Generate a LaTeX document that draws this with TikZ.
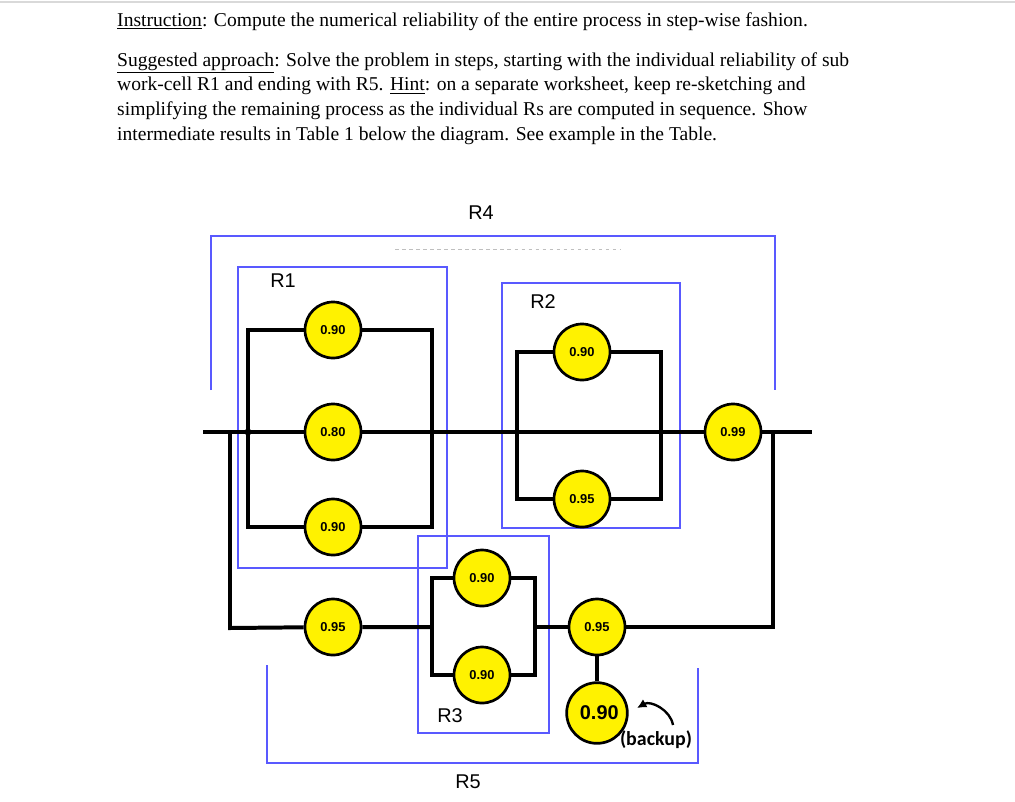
\documentclass[tikz,border=0pt]{standalone}
\usepackage{fontspec}
\setmainfont{Liberation Serif}
\newfontfamily\arialf{Liberation Sans}
\newfontfamily\carlf{Carlito}
\newcommand\myul[1]{\underline{#1}}
\usetikzlibrary{arrows.meta}
\begin{document}
\begin{tikzpicture}[x=0.03cm,y=-0.03cm,
  comp/.style={circle,draw=black,line width=2.3pt,fill=yellow,minimum size=1.68cm,inner sep=0pt,font=\arialf\bfseries\fontsize{11}{13}\selectfont},
  wire/.style={line width=3.4pt},
  box/.style={draw=blue!65,line width=0.9pt},
  lab/.style={font=\arialf\fontsize{17}{20}\selectfont,inner sep=0pt},
  txt/.style={anchor=north west,inner sep=0pt,align=left,font=\fontsize{16.7}{21.3}\selectfont}]
\useasboundingbox (0,0) rectangle (1015,801);
\draw[gray!30,line width=1.5pt] (0,2)--(1015,2);
\node[txt] (t1) at (117,12) {\myul{Instruction}: Compute the numerical reliability of the entire process in step-wise fashion.};
\node[txt] (t2) at (117,52) {\myul{Suggested approach}: Solve the problem in steps, starting with the individual reliability of sub\\work-cell R1 and ending with R5. \myul{Hint}: on a separate worksheet, keep re-sketching and\\simplifying the remaining process as the individual Rs are computed in sequence. Show\\intermediate results in Table 1 below the diagram. See example in the Table.};
% blue boxes
\draw[box] (211,390)--(211,236)--(775,236)--(775,390);
\draw[box] (238,267) rectangle (447,568);
\draw[box] (502,283) rectangle (680,528);
\draw[box] (418,536) rectangle (549,733);
\draw[box] (267,665)--(267,763)--(698,763)--(698,668);
\draw[gray!50,dashed,line width=0.8pt] (395,249)--(620,249);
% nodes
\node[comp] (a1) at (333,330) {0.90};
\node[comp] (a2) at (333,432) {0.80};
\node[comp] (a3) at (333,527) {0.90};
\node[comp] (b1) at (582,352) {0.90};
\node[comp] (b2) at (582,499) {0.95};
\node[comp] (d) at (733,432) {0.99};
\node[comp] (e) at (333,627) {0.95};
\node[comp] (c1) at (482,578) {0.90};
\node[comp] (c2) at (482,675) {0.90};
\node[comp] (f) at (597,627) {0.95};
\node[comp,minimum size=1.82cm,font=\arialf\bfseries\fontsize{17}{20}\selectfont,text width=1.3cm,align=right] (g) at (597,713) {0.90};
\coordinate (in) at (203,432);
\coordinate (out) at (812,432);
% wires
\draw[wire] (in)--(a2)--(d)--(out);
\draw[wire] (a1)--(248,330)--(248,527)--(a3);
\draw[wire] (a1)--(432,330)--(432,527)--(a3);
\draw[wire] (b1)--(517,352)--(517,499)--(b2);
\draw[wire] (b1)--(661,352)--(661,499)--(b2);
\draw[wire] (230,432)--(230,628)--(e)--(432,627);
\draw[wire] (c1)--(432,578)--(432,675)--(c2);
\draw[wire] (c1)--(535,578)--(535,675)--(c2);
\draw[wire] (535,627)--(f)--(773,627)--(773,432);
\draw[wire] (f)--(g);
\fill (248,432) circle (3pt);
% labels
\node[lab] (r4) at (481,213) {R4};
\node[lab] (r1) at (283,281) {R1};
\node[lab] (r2) at (543,302) {R2};
\node[lab] (r3) at (450,716) {R3};
\node[lab] (r5) at (468,782) {R5};
\node[font=\carlf\bfseries\fontsize{17}{20}\selectfont,inner sep=0pt] (bk) at (656,740) {(backup)};
\draw[-{Latex[length=8pt,width=8pt]},line width=2pt] (673,725) to[bend right=55] (637,708);
\end{tikzpicture}
\end{document}
